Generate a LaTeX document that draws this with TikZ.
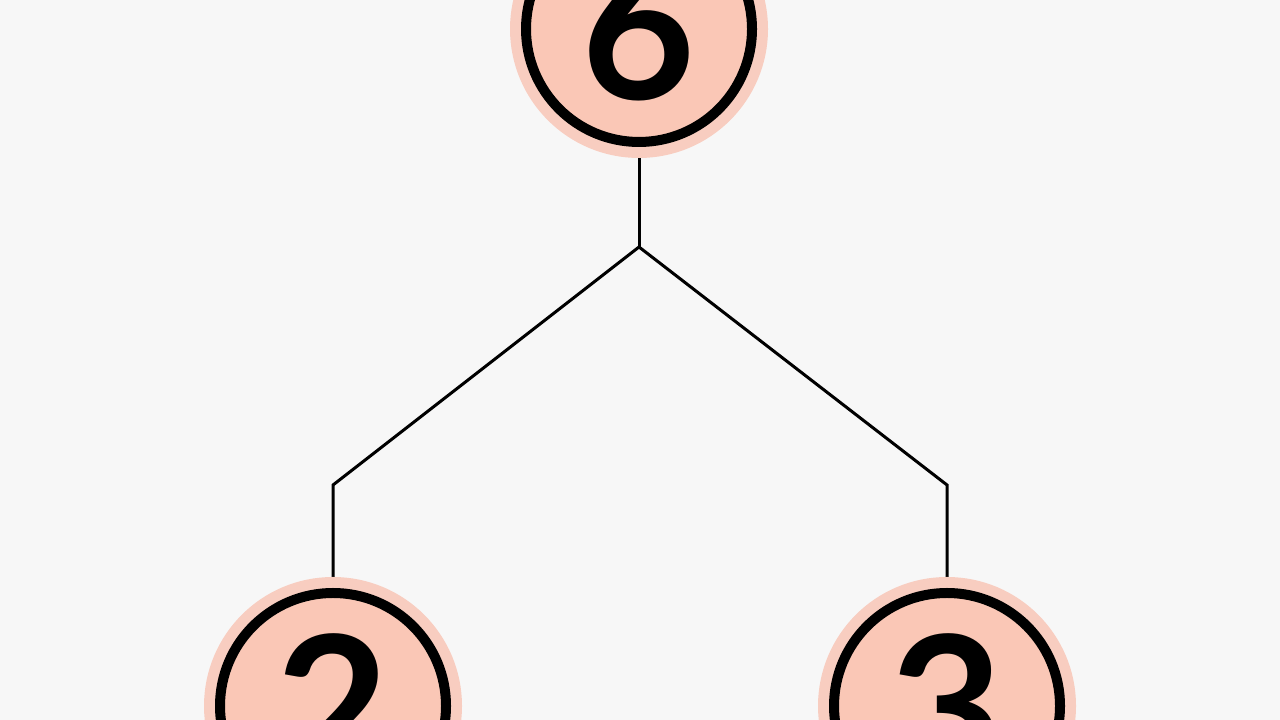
\documentclass[tikz,border=0pt]{standalone}
\usepackage{fontspec}
\setmainfont{Lato}
\usepackage{tikz}
\usetikzlibrary{calc}
\definecolor{bgcol}{HTML}{F7F7F7}
\definecolor{peach}{HTML}{FAC7B6}
\definecolor{peachrim}{HTML}{F8CDC0}
\tikzset{
    factor/.style={circle, fill=peach, draw=black, line width=1mm,
        minimum size=2.26cm, inner sep=0pt, outer sep=1.6mm,
        preaction={draw=peachrim, line width=3.2mm},
        font=\fontsize{56}{56}\selectfont\bfseries},
    branch/.style={line width=0.3mm, black}
}
\begin{document}
\begin{tikzpicture}
                \fill[bgcol] (0,0) rectangle (12.8,7.2);
                \useasboundingbox (0,0) rectangle (12.8,7.2);
                \coordinate (F) at (6.39,4.73);
                \coordinate (L) at (3.33,2.35);
                \coordinate (R) at (9.47,2.35);

                \draw[branch] (6.39,6.91) -- (F);
                \draw[branch] (F) -- (L) -- (3.33,0.14);
                \draw[branch] (F) -- (R) -- (9.47,0.14);

                \node[factor] (six) at (6.39,6.91) {6};
                \node[factor] (two) at (3.33,0.14) {2};
                \node[factor] (three) at (9.47,0.14) {3};

            \end{tikzpicture}
\end{document}
